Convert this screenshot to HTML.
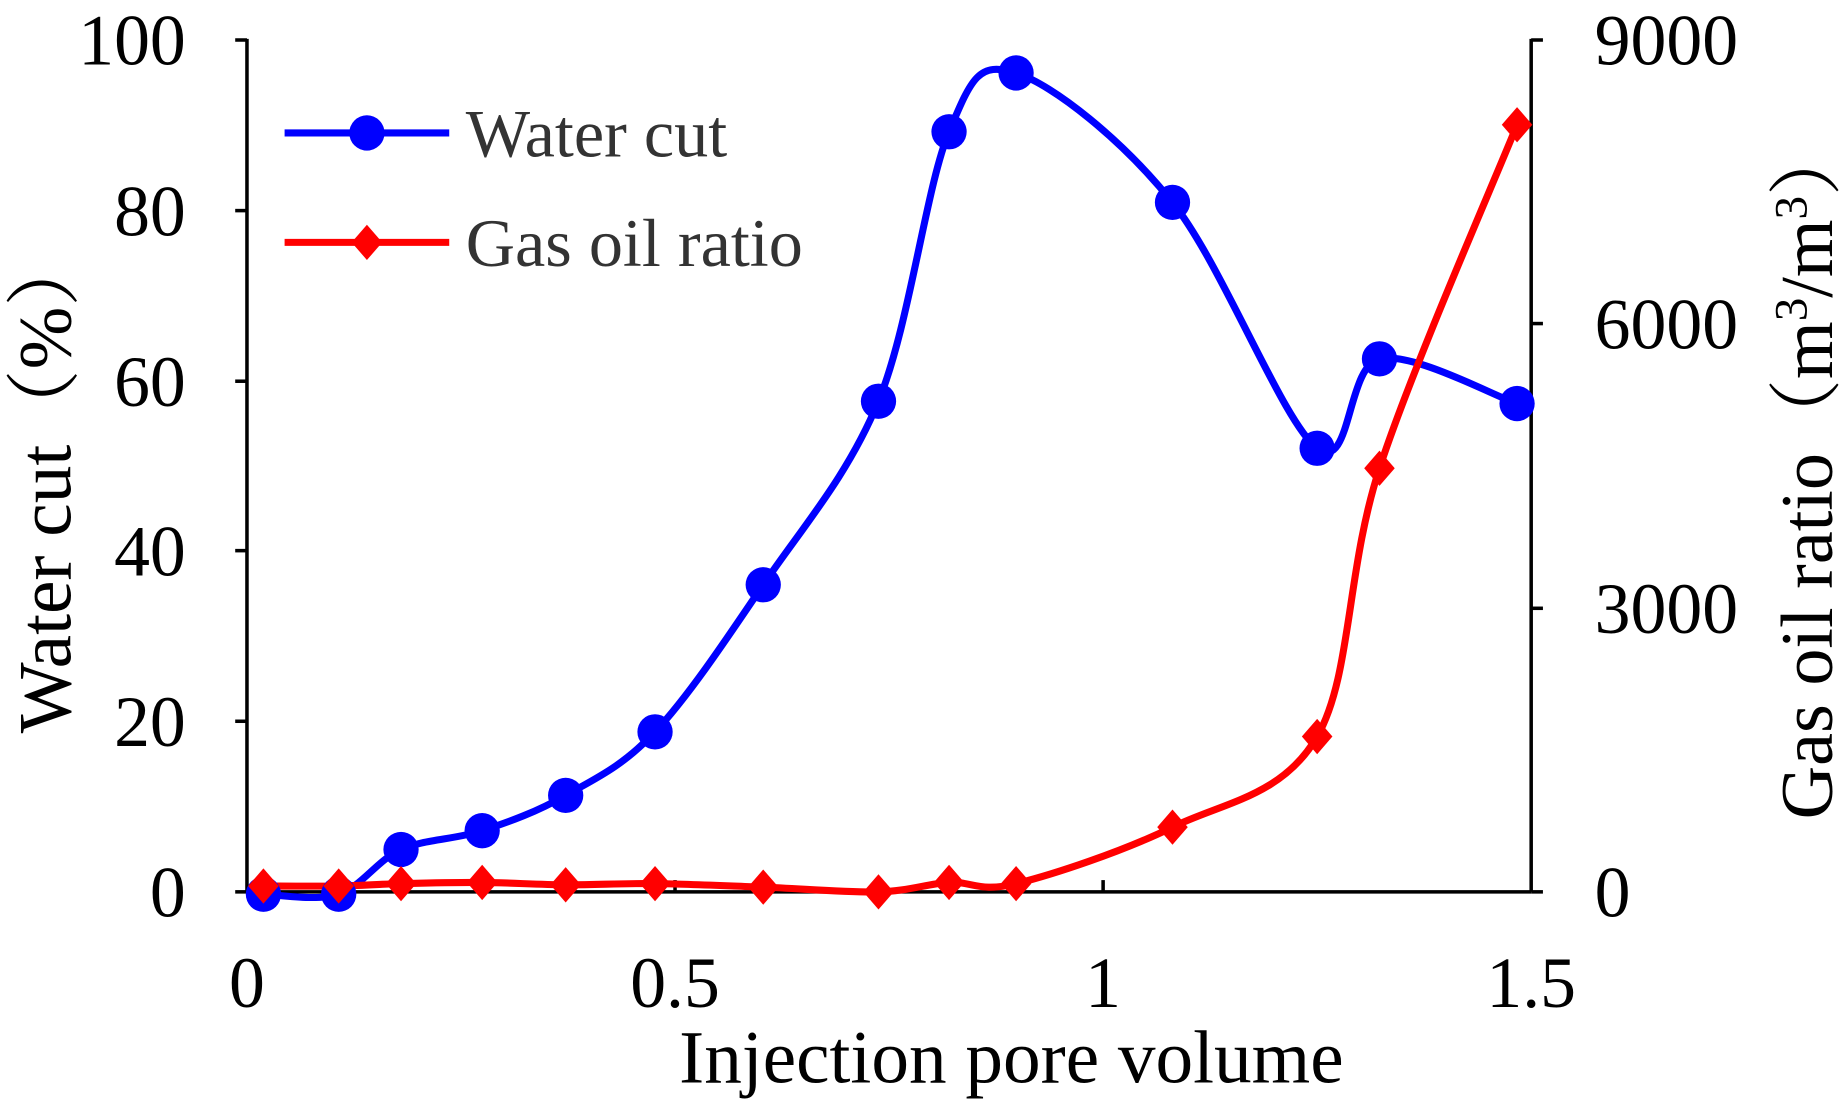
<!DOCTYPE html><html><head><meta charset="utf-8"><style>html,body{margin:0;padding:0;background:#fff}svg{display:block}</style></head><body>
<svg id="s" width="1844" height="1106" viewBox="0 0 1568 940" preserveAspectRatio="none" font-family="Liberation Serif, 'Noto Serif CJK SC', serif">
<g stroke="#000" stroke-width="3" fill="none">
<line x1="210" y1="33" x2="210" y2="758"/><line x1="1302" y1="33" x2="1302" y2="758"/><line x1="210" y1="758" x2="1302" y2="758"/>
<line x1="200" y1="34" x2="210" y2="34"/><line x1="200" y1="179" x2="210" y2="179"/><line x1="200" y1="324" x2="210" y2="324"/><line x1="200" y1="468" x2="210" y2="468"/><line x1="200" y1="613" x2="210" y2="613"/><line x1="200" y1="758" x2="210" y2="758"/>
<line x1="1302" y1="34" x2="1312" y2="34"/><line x1="1302" y1="275" x2="1312" y2="275"/><line x1="1302" y1="517" x2="1312" y2="517"/><line x1="1302" y1="758" x2="1312" y2="758"/>
<line x1="574" y1="758" x2="574" y2="748"/><line x1="938" y1="758" x2="938" y2="748"/>
</g>
<g font-size="61" fill="#000" text-anchor="end">
<text x="158" y="55">100</text><text x="158" y="200">80</text><text x="158" y="345">60</text><text x="158" y="489">40</text><text x="158" y="634">20</text><text x="158" y="779">0</text>
</g>
<g font-size="61" fill="#000" text-anchor="start">
<text x="1356" y="55">9000</text><text x="1356" y="296">6000</text><text x="1356" y="538">3000</text><text x="1356" y="779">0</text>
</g>
<g font-size="61" fill="#000" text-anchor="middle">
<text x="210" y="856">0</text><text x="574" y="856">0.5</text><text x="938" y="856">1</text><text x="1302" y="856">1.5</text>
<text x="860" y="920" font-size="64">Injection pore volume</text>
<text transform="translate(60,410) rotate(-90)" font-size="64">Water cut（%）</text>
<text transform="translate(1558,400) rotate(-90)" font-size="63">Gas oil ratio（m<tspan font-size="40" dy="-22">3</tspan><tspan dy="22">/m</tspan><tspan font-size="40" dy="-22">3</tspan><tspan dy="22">）</tspan></text>
</g>
<g id="plot"></g>
<line x1="242" y1="113" x2="382" y2="113" stroke="#0000ff" stroke-width="6"/><circle cx="312" cy="113" r="15" fill="#0000ff"/>
<line x1="242" y1="206" x2="382" y2="206" stroke="#ff0000" stroke-width="6"/><path d="M312 191 L325 206 L312 221 L299 206Z" fill="#ff0000"/>
<g font-size="58" fill="#333"><text x="396" y="133">Water cut</text><text x="396" y="226">Gas oil ratio</text></g>
</svg>
<script>
var B=[[224,760],[288,760],[341,722],[410,706],[481,676],[557,622],[649,497],[747,341],[807,112],[864,62],[997,172],[1120,381],[1173,305],[1290,343]];
var R=[[224,753],[288,753],[341,751],[410,750],[481,752],[557,751],[649,754],[747,758],[807,750],[864,751],[997,703],[1120,626],[1173,398],[1290,106]];
function path(p){var d="M"+p[0][0]+" "+p[0][1];for(var i=0;i<p.length-1;i++){var a=p[i-1]||p[i],b=p[i],c=p[i+1],e=p[i+2]||c;
d+=" C"+(b[0]+(c[0]-a[0])/6)+" "+(b[1]+(c[1]-a[1])/6)+" "+(c[0]-(e[0]-b[0])/6)+" "+(c[1]-(e[1]-b[1])/6)+" "+c[0]+" "+c[1];}return d;}
var g=document.getElementById("plot"),h="";
h+='<path d="'+path(B)+'" stroke="#0000ff" stroke-width="6" fill="none"/>';
h+='<path d="'+path(R)+'" stroke="#ff0000" stroke-width="6" fill="none"/>';
B.forEach(function(p){h+='<circle cx="'+p[0]+'" cy="'+p[1]+'" r="15" fill="#0000ff"/>';});
R.forEach(function(p){var x=p[0],y=p[1];h+='<path d="M'+x+' '+(y-15)+' L'+(x+13)+' '+y+' L'+x+' '+(y+15)+' L'+(x-13)+' '+y+'Z" fill="#ff0000"/>';});
g.innerHTML=h;
</script>
</body></html>
